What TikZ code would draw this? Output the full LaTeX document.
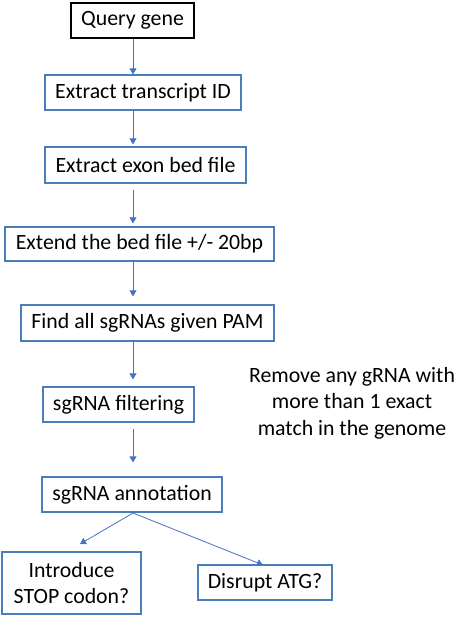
\documentclass[tikz,border=0pt]{standalone}
\usepackage{fontspec}
\setmainfont{Carlito}
\usetikzlibrary{arrows.meta}

\definecolor{boxblue}{RGB}{74,126,187}
\definecolor{arrowblue}{RGB}{68,114,196}

\tikzset{
  stepbox/.style={draw=boxblue, line width=1.2pt, inner sep=0pt, align=center, font=\fontsize{21.8}{26.5}\selectfont},
  startbox/.style={stepbox, draw=black},
  flow/.style={draw=arrowblue, line width=0.8pt, -{Triangle[width=7pt,length=6pt]}}
}

\begin{document}
\begin{tikzpicture}[x=1pt, y=-1pt]
\useasboundingbox (0,0) rectangle (474,622);

% steps of the pipeline
\node [startbox, minimum width=123pt, minimum height=35pt] (query) at (132.5,20.5) {Query gene};
\node [stepbox, minimum width=196pt, minimum height=35pt] (transcript) at (143,92.5) {Extract transcript ID};
\node [stepbox, minimum width=201pt, minimum height=36pt] (exon) at (145.5,165) {Extract exon bed file};
\node [stepbox, minimum width=269pt, minimum height=34pt] (extend) at (139.5,244) {Extend the bed file +/- 20bp};
\node [stepbox, minimum width=253pt, minimum height=36pt] (find) at (147.5,323) {Find all sgRNAs given PAM};
\node [stepbox, minimum width=151pt, minimum height=35pt] (filter) at (118.5,404.5) {sgRNA filtering};
\node [stepbox, minimum width=180pt, minimum height=35pt] (annot) at (132,494.5) {sgRNA annotation};
\node [stepbox, minimum width=139pt, minimum height=62pt] (stop) at (71.5,583) {Introduce\\STOP codon?};
\node [stepbox, minimum width=134pt, minimum height=35pt] (atg) at (265,582.5) {Disrupt ATG?};

% side note
\node [align=center, font=\fontsize{21.8}{26.5}\selectfont] (note) at (352,403) {Remove any gRNA with\\more than 1 exact\\match in the genome};

% connectors
\coordinate (spine) at (133,0);
\coordinate (stoptip) at (80,544);
\coordinate (atgtip) at (263,565);
\coordinate (split) at (133,513);

\draw [flow] (query.south -| spine) -- (transcript.north -| spine);
\draw [flow, shorten >=2pt] (transcript.south -| spine) -- (exon.north -| spine);
\draw [flow, shorten <=6pt, shorten >=3pt] (exon.south -| spine) -- (extend.north -| spine);
\draw [flow, shorten >=8pt] (extend.south -| spine) -- (find.north -| spine);
\draw [flow, shorten >=7pt] (find.south -| spine) -- (filter.north -| spine);
\draw [flow, shorten <=6pt, shorten >=14pt] (filter.south -| spine) -- (annot.north -| spine);
\draw [flow] (split) -- (stoptip);
\draw [flow] (split) -- (atgtip);
\end{tikzpicture}
\end{document}
